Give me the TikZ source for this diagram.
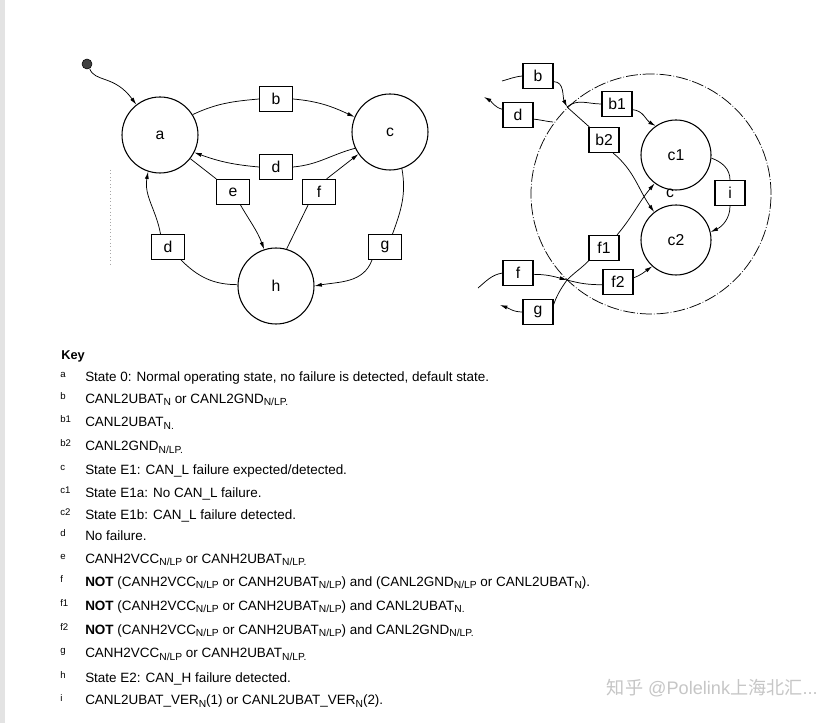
\documentclass[tikz,border=0pt]{standalone}
\usepackage{fontspec}
\setmainfont{Liberation Sans}
\newfontfamily\cjkfont{Noto Sans CJK SC}
\usetikzlibrary{arrows.meta}
\newcommand\dn[1]{\raisebox{-0.35ex}{\fontsize{7.7}{8}\selectfont #1}}
\newcommand\labfont{\fontsize{11.8}{13}\selectfont}
\newcommand\keyfont{\fontsize{10.1}{12}\selectfont}
\newcommand\tagfont{\fontsize{7.2}{8}\selectfont}
\begin{document}
\begin{tikzpicture}[x=0.75pt,y=-0.75pt,
  st/.style={circle,draw,line width=0.8pt,minimum size=57pt,inner sep=0pt,font=\labfont},
  sst/.style={circle,draw,line width=0.8pt,minimum size=52.5pt,inner sep=0pt,font=\labfont},
  bx/.style={rectangle,draw,line width=0.8pt,minimum width=24.75pt,minimum height=18.75pt,inner sep=0pt,font=\labfont},
  sbx/.style={bx,minimum width=22.5pt},
  conn/.style={line width=0.55pt},
  arr/.style={conn,-{Latex[length=5.5pt,width=3pt]}},
  keytxt/.style={anchor=base west,inner sep=0pt,font=\keyfont},
  keytag/.style={anchor=base west,inner sep=0pt,font=\tagfont}]
\useasboundingbox (0,0) rectangle (840,723);
\fill[white] (0,0) rectangle (840,723);
\fill[gray!22] (0,0) rectangle (5,723);
\draw[gray!70,dotted,line width=0.6pt] (110,170) -- (110,265);

% ---------- left diagram ----------
\node[circle,fill=black!75,draw=black,minimum size=7.5pt,inner sep=0pt] (init) at (87,64) {};
\node[st] (a) at (160,135) {a};
\node[st] (c) at (390,132) {c};
\node[st] (h) at (276,286) {h};
\node[bx] (lb) at (276,99) {b};
\node[bx] (ld) at (276,167) {d};
\node[bx] (le) at (233,192) {e};
\node[bx] (lf) at (319,192) {f};
\node[bx] (ld2) at (168,247) {d};
\node[bx] (lg) at (385,247) {g};

\draw[arr] (init.-60) .. controls +(5,14) and +(-22,-30) .. (a.128);
\draw[conn] (a.32) to[out=25,in=185] (lb.west);
\draw[arr] (lb.east) to[out=-5,in=155] (c.157);
\draw[conn] (c.205) to[out=195,in=5] (ld.east);
\draw[arr] (ld.west) to[out=175,in=-20] (a.-27);
\draw[conn] (a.-38) -- (le);
\draw[arr] (le.-60) to[out=-60,in=110] (h.108);
\draw[conn] (h.74) -- (lf.-130);
\draw[arr] (lf.60) -- (c.215);
\draw[conn] (h.178) to[out=180,in=-45] (ld2.-45);
\draw[arr] (ld2.120) to[out=100,in=-100] (a.-108);
\draw[conn] (c.-72) to[out=-80,in=70] (lg.60);
\draw[arr] (lg.-135) to[out=-110,in=10] (h.0);

% ---------- right diagram ----------
\draw[line width=0.55pt,dash pattern=on 9pt off 1.5pt on 0.6pt off 1.5pt] (651,194) circle[radius=90pt];
\node[font=\labfont] (cl) at (670,193) {c};
\node[sst] (c1) at (676,155) {c1};
\node[sst] (c2) at (676,240) {c2};
\node[sbx] (rb) at (538,76) {b};
\node[sbx] (rd) at (518,115) {d};
\node[sbx] (rb1) at (617,104) {b1};
\node[sbx] (rb2) at (604,140) {b2};
\node[sbx] (ri) at (730,193) {i};
\node[sbx] (rf1) at (604,248) {f1};
\node[sbx] (rf2) at (618,282) {f2};
\node[sbx] (rf) at (518,273) {f};
\node[sbx] (rg) at (538,312) {g};
\coordinate (P) at (567,107);
\coordinate (Q) at (567,280);
\coordinate (dst) at (553,122);
\coordinate (bin) at (502,81);
\coordinate (dout) at (484,97);
\coordinate (fin) at (478,288);
\coordinate (gout) at (500,305);

\draw[conn] (bin) to[out=15,in=185] (rb.west);
\draw[arr] (rb.-20) to[out=0,in=115] (P);
\draw[conn] (P) to[out=40,in=180] (rb1.west);
\draw[conn] (P) -- (rb2);
\draw[conn] (dst) to[out=175,in=-5] (rd.-15);
\draw[arr] (rd.160) to[out=165,in=-30] (dout);
\draw[arr] (rb1.-20) to[out=-5,in=150] (c1.125);
\draw[arr] (rb2.-55) to[out=-40,in=125] (c2.128);
\draw[conn] (c1.-5) to[out=-20,in=90] (ri.north);
\draw[arr] (ri.south) to[out=-90,in=25] (c2.13);
\draw[arr] (rf1.45) to[out=50,in=-130] (c1.-127);
\draw[arr] (rf2.15) to[out=20,in=-145] (c2.-132);
\draw[conn] (fin) to[out=40,in=190] (rf.west);
\draw[arr] (rf.-5) to[out=0,in=165] (Q);
\draw[conn] (Q) to[out=-15,in=180] (rf2.-170);
\draw[conn] (rf1.-140) to[out=-135,in=45] (Q) to[out=-125,in=70] (rg.25);
\draw[arr] (rg.west) to[out=180,in=-20] (gout);

% ---------- key ----------
\node[anchor=base west,inner sep=0pt,font=\fontsize{9.6}{11}\selectfont\bfseries] (key) at (61,360) {Key};
\node[keytag] (ta) at (60,377.5) {a};
\node[keytxt] (ka) at (85,381.5) {State 0: Normal operating state, no failure is detected, default state.};
\node[keytag] (tb) at (60,399.5) {b};
\node[keytxt] (kb) at (85,403.5) {CANL2UBAT\dn{N} or CANL2GND\dn{N/LP.}};
\node[keytag] (tb1) at (60,423) {b1};
\node[keytxt] (kb1) at (85,427) {CANL2UBAT\dn{N.}};
\node[keytag] (tb2) at (60,447) {b2};
\node[keytxt] (kb2) at (85,451) {CANL2GND\dn{N/LP.}};
\node[keytag] (tc) at (60,470.5) {c};
\node[keytxt] (kc) at (85,474.5) {State E1: CAN\_L failure expected/detected.};
\node[keytag] (tc1) at (60,493.5) {c1};
\node[keytxt] (kc1) at (85,497.5) {State E1a: No CAN\_L failure.};
\node[keytag] (tc2) at (60,515.5) {c2};
\node[keytxt] (kc2) at (85,519.5) {State E1b: CAN\_L failure detected.};
\node[keytag] (td) at (60,536.5) {d};
\node[keytxt] (kd) at (85,540.5) {No failure.};
\node[keytag] (te) at (60,559.5) {e};
\node[keytxt] (ke) at (85,563.5) {CANH2VCC\dn{N/LP} or CANH2UBAT\dn{N/LP.}};
\node[keytag] (tf) at (60,582.5) {f};
\node[keytxt] (kf) at (85,586.5) {\textbf{NOT} (CANH2VCC\dn{N/LP} or CANH2UBAT\dn{N/LP}) and (CANL2GND\dn{N/LP} or CANL2UBAT\dn{N}).};
\node[keytag] (tf1) at (60,606.5) {f1};
\node[keytxt] (kf1) at (85,610.5) {\textbf{NOT} (CANH2VCC\dn{N/LP} or CANH2UBAT\dn{N/LP}) and CANL2UBAT\dn{N.}};
\node[keytag] (tf2) at (60,630.5) {f2};
\node[keytxt] (kf2) at (85,634.5) {\textbf{NOT} (CANH2VCC\dn{N/LP} or CANH2UBAT\dn{N/LP}) and CANL2GND\dn{N/LP.}};
\node[keytag] (tg) at (60,654) {g};
\node[keytxt] (kg) at (85,658) {CANH2VCC\dn{N/LP} or CANH2UBAT\dn{N/LP.}};
\node[keytag] (th) at (60,678.5) {h};
\node[keytxt] (kh) at (85,682.5) {State E2: CAN\_H failure detected.};
\node[keytag] (ti) at (60,701) {i};
\node[keytxt] (ki) at (85,705) {CANL2UBAT\_VER\dn{N}(1) or CANL2UBAT\_VER\dn{N}(2).};

\node[anchor=east,inner sep=0pt,text=gray!45,font=\fontsize{13.6}{16}\selectfont] (wm) at (818,688) {{\cjkfont 知乎} @Polelink{\cjkfont 上海北汇}...};
\end{tikzpicture}
\end{document}
